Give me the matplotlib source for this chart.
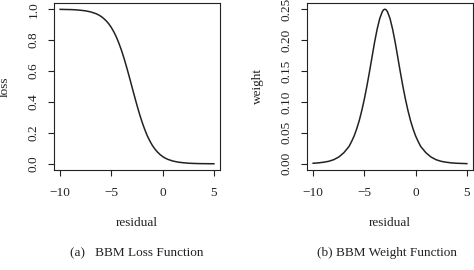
import matplotlib
matplotlib.use("Agg")
import matplotlib.pyplot as plt

plt.rcParams['font.family'] = ['Liberation Serif', 'DejaVu Serif']

residual = [-10, -9.5, -9, -8.5, -8, -7.5, -7, -6.5,
            -6.25, -6, -5.75, -5.5, -5.25, -5, -4.75, -4.5, -4.25, -4,
            -3.75, -3.5, -3.25, -3.125, -3, -2.875, -2.75, -2.5, -2.25, -2,
            -1.75, -1.5, -1.25, -1, -0.75, -0.5, -0.25, 0, 0.25, 0.5,
            1, 1.5, 2, 2.5, 3, 3.5, 4, 4.5, 5]
loss = [0.999, 0.998, 0.9975, 0.996, 0.993, 0.989, 0.982, 0.971,
        0.963, 0.953, 0.940, 0.924, 0.905, 0.881, 0.852, 0.818, 0.777, 0.731,
        0.679, 0.622, 0.562, 0.531, 0.500, 0.469, 0.438, 0.378, 0.321, 0.269,
        0.223, 0.182, 0.148, 0.119, 0.095, 0.076, 0.060, 0.047, 0.037, 0.029,
        0.018, 0.011, 0.007, 0.004, 0.0025, 0.0015, 0.001, 0.0006, 0.0003]
weight = [0.0009, 0.0015, 0.0025, 0.004, 0.0066, 0.011, 0.018, 0.028,
          0.036, 0.045, 0.0565, 0.070, 0.0863, 0.105, 0.1261, 0.149, 0.1731, 0.197,
          0.218, 0.235, 0.246, 0.249, 0.250, 0.249, 0.246, 0.235, 0.218, 0.197,
          0.173, 0.149, 0.126, 0.105, 0.0863, 0.070, 0.0565, 0.045, 0.036, 0.028,
          0.018, 0.011, 0.0066, 0.004, 0.0025, 0.0015, 0.0009, 0.0006, 0.0003]

xticks = [-10, -5, 0, 5]
loss_ticks = [0.0, 0.2, 0.4, 0.6, 0.8, 1.0]
weight_ticks = [0.00, 0.05, 0.10, 0.15, 0.20, 0.25]

W, H = 474, 270
fig = plt.figure(figsize=(W / 100, H / 100), dpi=100)
ink = '#222222'

def make_ax(left_px, ylim, yticks, yfmt, ylabel, yvals):
    ax = fig.add_axes([left_px / W, 1 - 170 / H, 166 / W, 167 / H])
    ax.plot(residual, yvals, color=ink, lw=1.1)
    ax.set_xlim(-10.6, 5.6)
    ax.set_ylim(*ylim)
    ax.set_xticks(xticks)
    ax.set_xticklabels([f"{t}".replace('-', '\u2212') for t in xticks])
    ax.set_yticks(yticks)
    ax.set_yticklabels([yfmt.format(t) for t in yticks], rotation=90, va='center')
    for s in ax.spines.values():
        s.set_color(ink)
        s.set_linewidth(0.8)
    ax.tick_params(direction='out', length=4.5, width=0.8, color=ink,
                   labelsize=9.5, labelcolor=ink)
    ax.tick_params(axis='x', pad=8)
    ax.tick_params(axis='y', pad=6)
    ax.set_xlabel('residual', fontsize=9.5, color=ink, labelpad=13)
    ax.set_ylabel(ylabel, fontsize=9.5, color=ink, labelpad=12)
    return ax

make_ax(54, (-0.04, 1.04), loss_ticks, "{:.1f}", 'loss', loss)
make_ax(307, (-0.01, 0.26), weight_ticks, "{:.2f}", 'weight', weight)

fig.text(137 / W, 1 - 253 / H, '(a)   BBM Loss Function', ha='center', va='center',
         fontsize=9.5, color=ink)
fig.text(387 / W, 1 - 253 / H, '(b) BBM Weight Function', ha='center', va='center',
         fontsize=9.5, color=ink)

fig.savefig('out.png', dpi=100, facecolor='white')
